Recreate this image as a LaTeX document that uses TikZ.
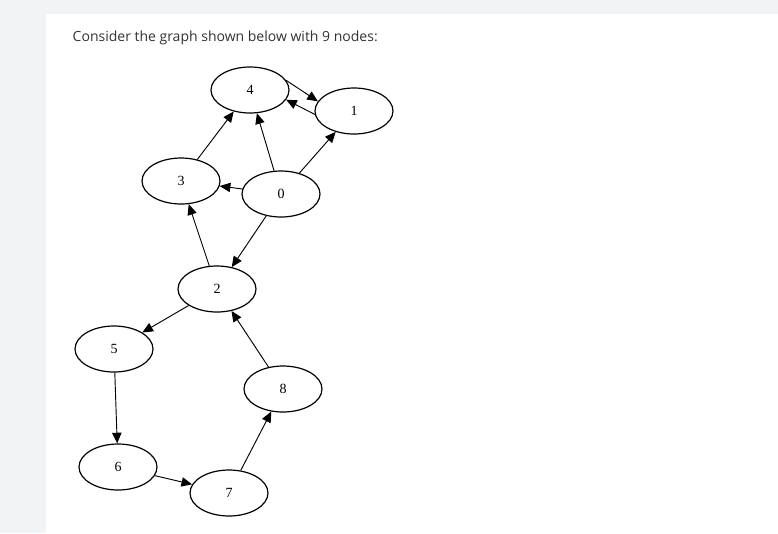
\documentclass[tikz,border=0pt]{standalone}
\usepackage{fontspec}
\setmainfont{Liberation Serif}
\newfontfamily\uifont{Open Sans}
\usetikzlibrary{shapes.geometric,arrows.meta}
\definecolor{bgc}{HTML}{F1F3F4}
\definecolor{txt}{HTML}{333333}
\tikzset{
  vtx/.style={ellipse,draw,line width=0.9pt,minimum width=58.5pt,minimum height=34.5pt,inner sep=0pt,font=\fontsize{10.5}{12}\selectfont},
  arc/.style={-{Triangle[length=8pt,width=7pt]},line width=0.7pt}
}
\begin{document}
\begin{tikzpicture}[x=0.75pt,y=-0.75pt]
\useasboundingbox (0,0) rectangle (778,533);
\fill[bgc] (0,0) rectangle (778,533);
\fill[white] (46,14) rectangle (778,533);
\node[anchor=west,text=txt,font=\uifont\fontsize{10.5}{12}\selectfont] (title) at (68,38) {Consider the graph shown below with 9 nodes:};
\node[vtx] (n4) at (250,90) {4};
\node[vtx] (n1) at (354,111) {1};
\node[vtx] (n3) at (181,181) {3};
\node[vtx] (n0) at (281,194) {0};
\node[vtx] (n2) at (217,289) {2};
\node[vtx] (n5) at (114,349) {5};
\node[vtx] (n8) at (283,389) {8};
\node[vtx] (n6) at (118,467) {6};
\node[vtx] (n7) at (229,493) {7};
\draw[arc] (n4.15) -- (n1.165);
\draw[arc] (n1.185) -- (n4.-15);
\draw[arc] (n3) -- (n4);
\draw[arc] (n0) -- (n4);
\draw[arc] (n0) -- (n1);
\draw[arc] (n0) -- (n3);
\draw[arc] (n0) -- (n2);
\draw[arc] (n2) -- (n3);
\draw[arc] (n2) -- (n5);
\draw[arc] (n5) -- (n6);
\draw[arc] (n6) -- (n7);
\draw[arc] (n7) -- (n8);
\draw[arc] (n8) -- (n2);
\end{tikzpicture}
\end{document}
